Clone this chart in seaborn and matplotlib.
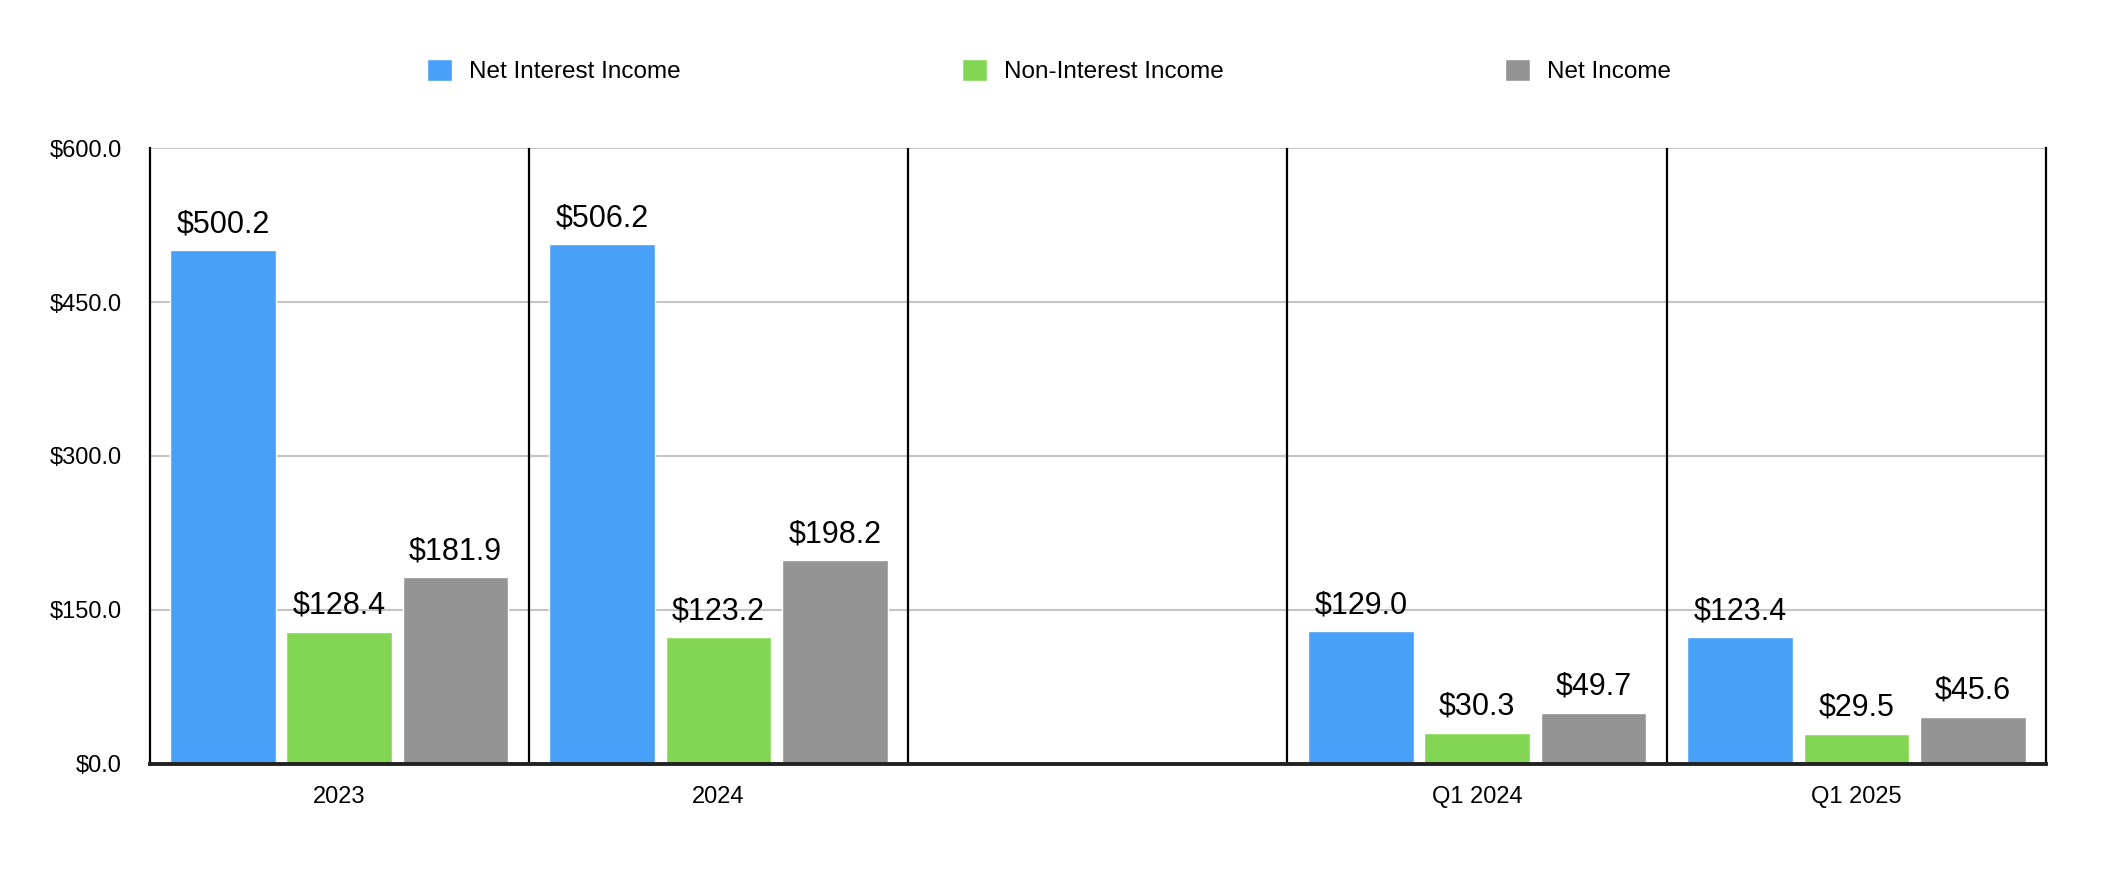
import pandas as pd
import numpy as np
import seaborn as sns
import matplotlib.pyplot as plt
from matplotlib.ticker import StrMethodFormatter

# Dados do gráfico
periodos = ["2023", "2024", "Q1 2024", "Q1 2025"]
ordem_eixo = ["2023", "2024", " ", "Q1 2024", "Q1 2025"]
series = ["Net Interest Income", "Non-Interest Income", "Net Income"]
net_interest = [500.2, 506.2, 129.0, 123.4]
non_interest = [128.4, 123.2, 30.3, 29.5]
net_income = [181.9, 198.2, 49.7, 45.6]
cores = ["#48A0F8", "#83D653", "#949494"]

dados = pd.DataFrame({
    "periodo": periodos * 3,
    "serie": [series[0]] * 4 + [series[1]] * 4 + [series[2]] * 4,
    "valor": net_interest + non_interest + net_income,
})

sns.set_style("white")
plt.rcParams['font.family'] = ['Liberation Sans', 'DejaVu Sans']
plt.rcParams['text.color'] = 'black'
plt.rcParams['xtick.color'] = 'black'
plt.rcParams['ytick.color'] = 'black'

fig, ax = plt.subplots(figsize=(21.28, 8.76), dpi=100)
fig.subplots_adjust(left=0.0703, right=0.9615, top=0.831, bottom=0.128)

sns.barplot(data=dados, x="periodo", y="valor", hue="serie", order=ordem_eixo,
            hue_order=series, palette=cores, width=0.92, gap=0.09,
            saturation=1, errorbar=None, ax=ax, zorder=3)

# Rótulos de valor
for c in ax.containers:
    labels = ["" if np.isnan(b.get_height()) else f"${b.get_height():.1f}" for b in c]
    ax.bar_label(c, labels=labels, padding=8, fontsize=22, color="black")

ax.set_ylim(0, 600)
ax.set_xlim(-0.5, 4.5)
ax.set_yticks([0, 150, 300, 450, 600])
ax.yaxis.set_major_formatter(StrMethodFormatter("${x:.1f}"))
ax.yaxis.grid(True, color="#c4c4c4", linewidth=1.5, zorder=0)
ax.set_axisbelow(True)
ax.tick_params(axis="both", length=0, labelsize=17, labelcolor="black")
ax.tick_params(axis="y", pad=20)
ax.tick_params(axis="x", pad=16)
ax.set_xlabel("")
ax.set_ylabel("")

# Separadores entre categorias
for xv in [0.5, 1.5, 2.5, 3.5]:
    ax.axvline(xv, color="black", linewidth=1.6, zorder=2)
ax.spines["top"].set_visible(False)
ax.spines["left"].set_color("black")
ax.spines["left"].set_linewidth(1.6)
ax.spines["right"].set_color("black")
ax.spines["right"].set_linewidth(1.6)
ax.spines["bottom"].set_color("#222222")
ax.spines["bottom"].set_linewidth(2.8)
ax.spines["bottom"].set_zorder(4)

# Legenda
handles, labs = ax.get_legend_handles_labels()
ax.get_legend().remove()
fig.legend(handles, labs, loc="center", bbox_to_anchor=(0.493, 0.919), ncol=3,
           frameon=False, fontsize=17.5, handlelength=1.0, handleheight=1.0,
           handletextpad=0.7, columnspacing=11.6, labelcolor="black")

plt.savefig("out.png", dpi=100)
